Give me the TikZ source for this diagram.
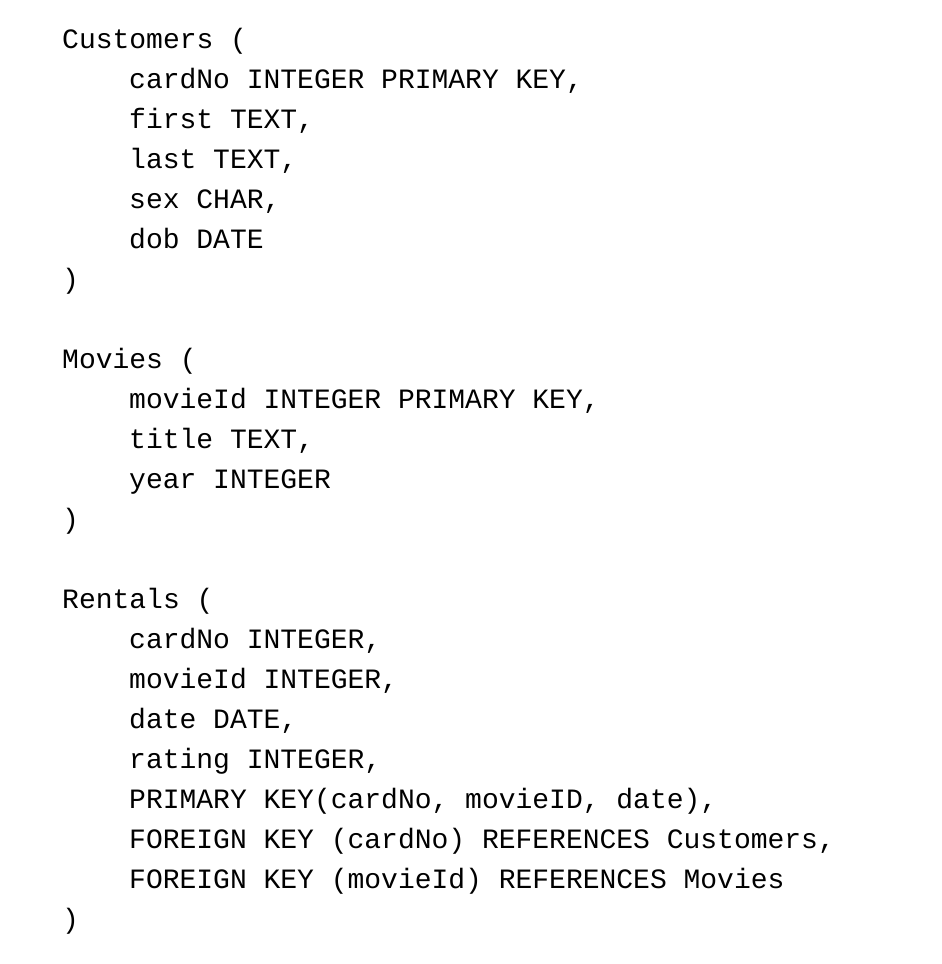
\documentclass[tikz,border=0pt]{standalone}
\usepackage{fontspec}
\setmonofont{Liberation Mono}
\begin{document}
\begin{tikzpicture}[x=1pt,y=-1pt,
  code/.style={anchor=base west,inner sep=0pt,font=\ttfamily\fontsize{28}{28}\selectfont}]
\useasboundingbox (0,0) rectangle (942,964);
\newcommand{\codeline}[4]{\node[code] (#1) at (#2,{48+40*#3}) {#4};}
\codeline{c0}{62}{0}{Customers (}
\codeline{c1}{129}{1}{cardNo INTEGER PRIMARY KEY,}
\codeline{c2}{129}{2}{first TEXT,}
\codeline{c3}{129}{3}{last TEXT,}
\codeline{c4}{129}{4}{sex CHAR,}
\codeline{c5}{129}{5}{dob DATE}
\codeline{c6}{62}{6}{)}
\codeline{m0}{62}{8}{Movies (}
\codeline{m1}{129}{9}{movieId INTEGER PRIMARY KEY,}
\codeline{m2}{129}{10}{title TEXT,}
\codeline{m3}{129}{11}{year INTEGER}
\codeline{m4}{62}{12}{)}
\codeline{r0}{62}{14}{Rentals (}
\codeline{r1}{129}{15}{cardNo INTEGER,}
\codeline{r2}{129}{16}{movieId INTEGER,}
\codeline{r3}{129}{17}{date DATE,}
\codeline{r4}{129}{18}{rating INTEGER,}
\codeline{r5}{129}{19}{PRIMARY KEY(cardNo, movieID, date),}
\codeline{r6}{129}{20}{FOREIGN KEY (cardNo) REFERENCES Customers,}
\codeline{r7}{129}{21}{FOREIGN KEY (movieId) REFERENCES Movies}
\codeline{r8}{62}{22}{)}
\end{tikzpicture}
\end{document}
